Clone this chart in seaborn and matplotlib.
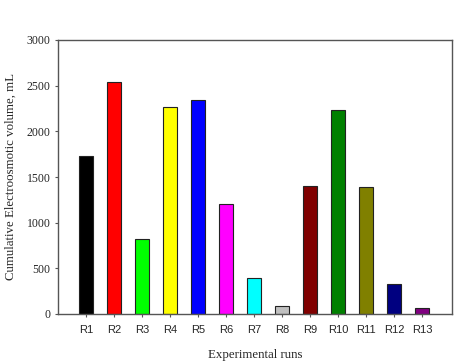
import pandas as pd
import seaborn as sns
import matplotlib.pyplot as plt

runs = ['R1', 'R2', 'R3', 'R4', 'R5', 'R6', 'R7', 'R8', 'R9', 'R10', 'R11', 'R12', 'R13']
volume = [1733, 2544, 818, 2270, 2347, 1204, 398, 88, 1405, 2234, 1391, 328, 69]
colors = ['#000000', '#ff0000', '#00ff00', '#ffff00', '#0000ff', '#ff00ff', '#00ffff',
          '#c0c0c0', '#800000', '#008000', '#808000', '#000080', '#800080']

df = pd.DataFrame({'run': runs, 'volume': volume})

sns.set_style('white')
fig = plt.figure(figsize=(4.74, 3.62), dpi=100)
ax = fig.add_axes([58 / 474, 48 / 362, 394 / 474, 274 / 362])

sns.barplot(data=df, x='run', y='volume', hue='run', palette=colors, legend=False,
            width=0.53, edgecolor='#222222', linewidth=0.8, saturation=1, ax=ax)

ax.set_xlim(-1, 13.07)
ax.set_ylim(0, 3000)
ax.set_yticks(range(0, 3001, 500))

for s in ax.spines.values():
    s.set_color('#555555')
    s.set_linewidth(1.0)

ax.tick_params(axis='both', direction='out', length=2.5, width=0.8, color='#555555',
               bottom=True, left=True, top=False, right=False)
ax.tick_params(axis='x', pad=5.5)
ax.tick_params(axis='y', pad=3)
for lbl in ax.get_xticklabels():
    lbl.set_fontfamily('Liberation Sans')
    lbl.set_fontsize(8)
for lbl in ax.get_yticklabels():
    lbl.set_fontfamily('Liberation Serif')
    lbl.set_fontsize(8.5)

ax.set_xlabel('Experimental runs', fontfamily='Liberation Serif', fontsize=9.3, labelpad=10)
ax.set_ylabel('Cumulative Electroosmotic volume, mL', fontfamily='Liberation Serif',
              fontsize=9.3, labelpad=7)

fig.savefig('out.png', dpi=100)
